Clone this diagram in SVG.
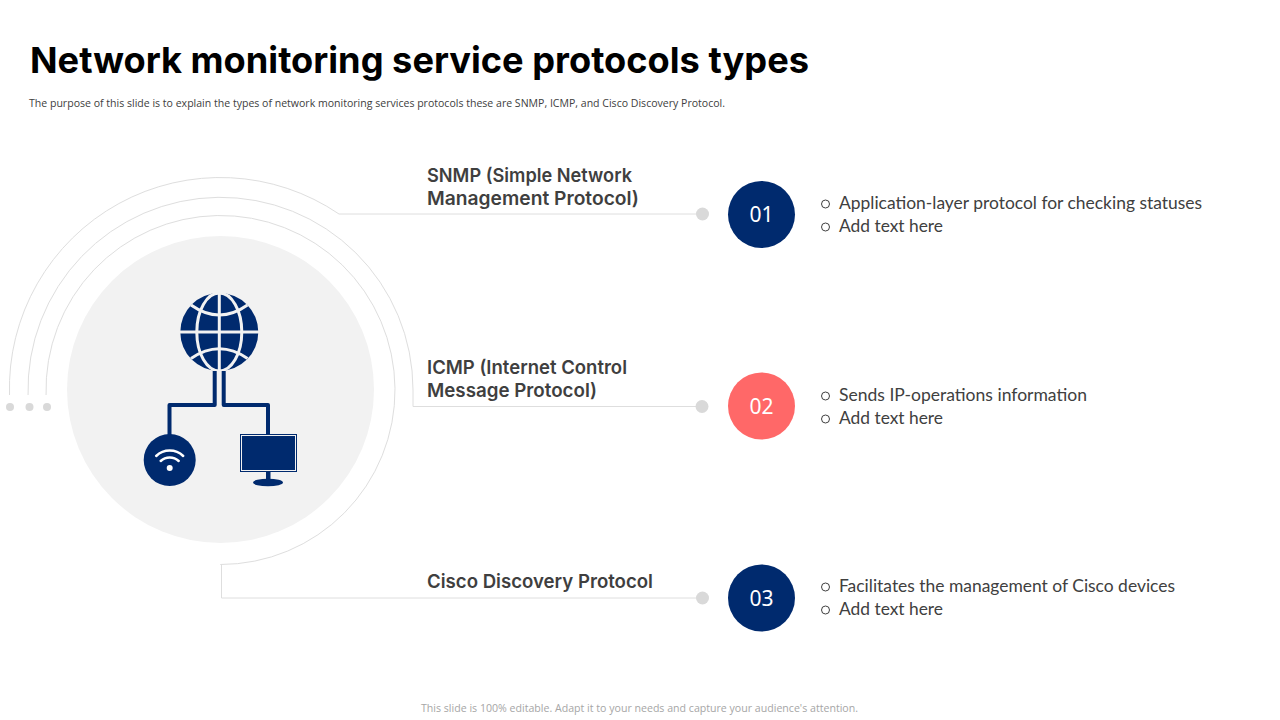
<svg xmlns="http://www.w3.org/2000/svg" width="1280" height="720" viewBox="0 0 1280 720">
<style>
text{font-family:"Open Sans","Liberation Sans",sans-serif}
.title{font-family:Inter,"Liberation Sans",sans-serif;font-size:36px;font-weight:700;fill:#000}
.sub{font-size:10.500px;fill:#404040}
.foot{font-size:10.500px;fill:#a6a6a6}
.head{font-family:Inter,"Liberation Sans",sans-serif;font-size:19px;font-weight:600;fill:#3f3f3f}
.body{font-family:Lato,"Open Sans",sans-serif;font-size:17.500px;fill:#404040}
.num{font-family:"Noto Sans","Open Sans",sans-serif;font-size:21px;fill:#fff;text-anchor:middle}
.ln{fill:none;stroke:#dedede;stroke-width:1}
.dot{fill:#d9d9d9}
.bul{fill:none;stroke:#404040;stroke-width:1}
.navy{fill:#002a6e}
.wire{fill:none;stroke:#002a6e;stroke-width:4;stroke-linejoin:round}
.gl{fill:none;stroke:#f2f2f2;stroke-width:3}
</style>
<rect width="1280" height="720" fill="#fff"/>
<text class="title" x="30" y="73" textLength="779" lengthAdjust="spacingAndGlyphs">Network monitoring service protocols types</text>
<text class="sub" x="29" y="107" textLength="696" lengthAdjust="spacingAndGlyphs">The purpose of this slide is to explain the types of network monitoring services protocols these are SNMP, ICMP, and Cisco Discovery Protocol.</text>
<g id="connectors">
<path class="ln" d="M9.500 395A211 211 0 0 1 339 214H702"/>
<path class="ln" d="M28.070 395A192.500 192.500 0 1 1 413 390V406.500H702"/>
<path class="ln" d="M46.070 395A174.500 174.500 0 1 1 220.500 564.500H221.500V598H702"/>
<circle class="dot" cx="10" cy="407" r="4"/><circle class="dot" cx="29.500" cy="407" r="4"/><circle class="dot" cx="47" cy="407" r="4"/>
<circle class="dot" cx="702.500" cy="214" r="6.500"/><circle class="dot" cx="702" cy="406.500" r="6.500"/><circle class="dot" cx="702.500" cy="598" r="6.500"/>
</g>
<g id="hub">
<circle cx="220.500" cy="389.500" r="153.500" fill="#f2f2f2"/>
<g id="globe">
<circle class="navy" cx="219.300" cy="332" r="39"/>
<path class="gl" d="M219.300 292V372M180 332H259"/>
<ellipse class="gl" cx="219.300" cy="332" rx="22.500" ry="39"/>
<path class="gl" d="M191 305Q219.300 325 247.500 305M191 358.500Q219.300 339 247.500 358.500"/>
</g>
<path class="wire" d="M214.700 371V405H169.500V436M223.700 371V405H268V435"/>
<g id="wifi">
<circle class="navy" cx="169.700" cy="460" r="26"/>
<path d="M156.200 456A19.500 19.500 0 0 1 183.200 456M160.700 461A13 13 0 0 1 178.700 461" fill="none" stroke="#fff" stroke-width="2.500" stroke-linecap="round"/>
<circle cx="169.700" cy="468" r="3" fill="#fff"/>
</g>
<g id="monitor">
<rect class="navy" x="240" y="434" width="57" height="38"/>
<rect x="241.500" y="435.500" width="54" height="35" fill="none" stroke="#f2f2f2" stroke-width="1"/>
<rect class="navy" x="266" y="472" width="4.500" height="7"/>
<ellipse class="navy" cx="268" cy="482.500" rx="15" ry="3.800"/>
</g>
</g>
<g id="n1">
<text class="head" x="427" y="182" textLength="205" lengthAdjust="spacingAndGlyphs">SNMP (Simple Network</text>
<text class="head" x="427" y="205" textLength="212" lengthAdjust="spacingAndGlyphs">Management Protocol)</text>
<circle class="navy" cx="761.500" cy="214.500" r="33.500"/>
<text class="num" x="761.500" y="221.500">01</text>
<circle class="bul" cx="825.500" cy="204" r="4"/>
<text class="body" x="839" y="209" textLength="363" lengthAdjust="spacingAndGlyphs">Application-layer protocol for checking statuses</text>
<circle class="bul" cx="825.500" cy="227" r="4"/>
<text class="body" x="839" y="232" textLength="104" lengthAdjust="spacingAndGlyphs">Add text here</text>
</g>
<g id="n2">
<text class="head" x="427" y="374" textLength="200" lengthAdjust="spacingAndGlyphs">ICMP (Internet Control</text>
<text class="head" x="427" y="397" textLength="170" lengthAdjust="spacingAndGlyphs">Message Protocol)</text>
<circle cx="761.500" cy="406" r="33.500" fill="#ff6868"/>
<text class="num" x="761.500" y="413.500">02</text>
<circle class="bul" cx="825.500" cy="396" r="4"/>
<text class="body" x="839" y="401" textLength="248" lengthAdjust="spacingAndGlyphs">Sends IP-operations information</text>
<circle class="bul" cx="825.500" cy="419" r="4"/>
<text class="body" x="839" y="424" textLength="104" lengthAdjust="spacingAndGlyphs">Add text here</text>
</g>
<g id="n3">
<text class="head" x="427" y="588" textLength="226" lengthAdjust="spacingAndGlyphs">Cisco Discovery Protocol</text>
<circle class="navy" cx="761.500" cy="598" r="33.500"/>
<text class="num" x="761.500" y="605.500">03</text>
<circle class="bul" cx="825.500" cy="587" r="4"/>
<text class="body" x="839" y="592" textLength="336" lengthAdjust="spacingAndGlyphs">Facilitates the management of Cisco devices</text>
<circle class="bul" cx="825.500" cy="610" r="4"/>
<text class="body" x="839" y="615" textLength="104" lengthAdjust="spacingAndGlyphs">Add text here</text>
</g>
<text class="foot" x="421" y="712" textLength="437" lengthAdjust="spacingAndGlyphs">This slide is 100% editable. Adapt it to your needs and capture your audience's attention.</text>
</svg>
